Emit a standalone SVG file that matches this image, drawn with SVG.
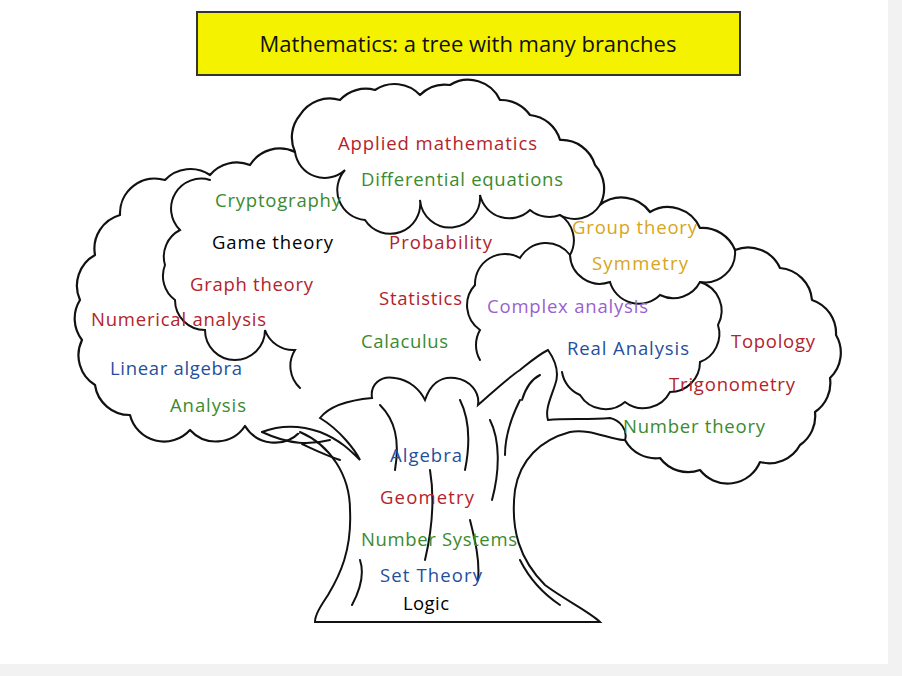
<svg xmlns="http://www.w3.org/2000/svg" width="902" height="676" viewBox="0 0 902 676">
<style>
.o{fill:#fff;stroke:#111;stroke-width:2.2;stroke-linejoin:round}
.f{fill:#fff;stroke:none}
.l{fill:none;stroke:#111;stroke-width:2;stroke-linecap:round}
text{font-family:"Open Sans","Liberation Sans",sans-serif;font-size:18.5px}
.r{fill:#b3232b}.g{fill:#3b8a2e}.b{fill:#1f4f9e}.y{fill:#d7a520}.p{fill:#9a5fd0}.k{fill:#000}
</style>
<rect width="902" height="676" fill="#fff"/>
<rect x="888" y="0" width="14" height="676" fill="#f2f2f2"/>
<rect x="0" y="664" width="902" height="12" fill="#f2f2f2"/>
<g id="title">
<rect x="197" y="12" width="543" height="63" fill="#f5f200" stroke="#333" stroke-width="2"/>
<text x="468" y="52" text-anchor="middle" style="font-size:22px" fill="#111">Mathematics: a tree with many branches</text>
</g>
<g id="canopy">
<path class="o" d="M300,432 A35,35 0 0 1 245,426 A35,35 0 0 1 190,430 A35,35 0 0 1 130,415 A35,35 0 0 1 95,385 A35,35 0 0 1 82,340 A35,35 0 0 1 80,300 A35,35 0 0 1 95,255 A35,35 0 0 1 120,215 A35,35 0 0 1 165,180 A35,35 0 0 1 210,175 A35,35 0 0 1 250,165 A35,35 0 0 1 295,152 A35,35 0 0 1 300,115 A35,35 0 0 1 340,100 A35,35 0 0 1 375,90 A35,35 0 0 1 420,95 A35,35 0 0 1 450,85 A35,35 0 0 1 500,100 A35,35 0 0 1 530,115 A35,35 0 0 1 560,140 A35,35 0 0 1 595,165 A35,35 0 0 1 600,205 A35,35 0 0 1 650,212 A35,35 0 0 1 700,228 A35,35 0 0 1 735,250 A35,35 0 0 1 780,268 A35,35 0 0 1 812,300 A35,35 0 0 1 836,335 A35,35 0 0 1 830,378 A35,35 0 0 1 815,412 A35,35 0 0 1 800,445 A35,35 0 0 1 760,462 A35,35 0 0 1 700,470 A35,35 0 0 1 660,458 A35,35 0 0 1 625,440 L560,432 Z"/>
<path class="l" d="M300,388 A30,30 0 0 1 295,350 A30,30 0 0 1 265,330 A30,30 0 0 1 205,330 A30,30 0 0 1 175,300 A30,30 0 0 1 165,265 A30,30 0 0 1 180,230 A30,30 0 0 1 210,180"/>
<path class="l" d="M295,152 A30,30 0 0 0 345,170 A30,30 0 0 0 365,220 A30,30 0 0 0 420,200 A30,30 0 0 0 480,195 A30,30 0 0 0 530,210 A30,30 0 0 0 560,215 A30,30 0 0 0 600,205"/>
<path class="l" d="M560,215 A30,30 0 0 1 570,255 A30,30 0 0 0 520,258 A30,30 0 0 0 475,285 A30,30 0 0 0 480,330 A30,30 0 0 0 480,360"/>
<path class="l" d="M570,255 A30,30 0 0 0 610,282 A30,30 0 0 0 660,295 A30,30 0 0 0 700,282 A30,30 0 0 0 735,250"/>
<path class="l" d="M700,282 A30,30 0 0 1 718,325 A30,30 0 0 1 700,362 A30,30 0 0 1 670,392 A30,30 0 0 1 625,402 A30,30 0 0 1 580,395 A30,30 0 0 1 562,372"/>
</g>
<g id="trunk">
<path class="f" d="M296,420 L630,420 L625,440 C600,440 570,440 545,445 C520,460 510,530 515,545 C520,565 545,590 600,622 L315,622 C320,605 345,570 350,530 C355,480 335,445 296,432 Z"/>
<path class="l" d="M300,432 C330,445 350,475 350,510 C352,550 340,575 328,595 C320,607 315,615 315,622 L600,622 C590,612 565,600 545,585 C520,560 510,530 515,490 C520,460 540,440 570,432 C590,428 610,440 625,440"/>
<path class="l" d="M262,432 C280,425 300,425 320,432 C340,440 350,450 360,460 C355,450 340,430 320,418 C330,405 350,400 372,398 C370,385 380,375 395,378 C410,380 420,390 425,400 C430,385 440,376 455,378 C470,380 480,392 478,405 C490,395 505,380 520,370 C530,362 538,355 548,350 C555,360 560,372 555,385 C550,400 545,410 548,420 C565,418 590,420 610,418 C620,420 628,430 625,440"/>
<path class="l" d="M330,440 C310,445 290,445 262,432 M340,460 C325,455 315,450 302,444"/>
<path class="l" d="M380,405 C395,420 400,440 395,470 M460,400 C470,420 470,445 465,470 M490,420 C500,440 500,470 492,500 M520,400 C510,420 505,440 505,455 M540,375 C530,380 525,390 522,400 M430,470 C435,500 432,530 425,560 M470,520 C475,540 480,560 478,580 M360,560 C365,575 360,590 352,605 M520,560 C530,580 545,595 560,605"/>
</g>
<g id="labels">
<text class="r" x="338" y="150" textLength="199">Applied mathematics</text>
<text class="g" x="361" y="186" textLength="202">Differential equations</text>
<text class="g" x="215" y="207" textLength="126">Cryptography</text>
<text class="k" x="212" y="249" textLength="121">Game theory</text>
<text class="r" x="389" y="249" textLength="103">Probability</text>
<text class="y" x="572" y="234" textLength="125">Group theory</text>
<text class="y" x="592" y="270" textLength="96">Symmetry</text>
<text class="r" x="190" y="291" textLength="123">Graph theory</text>
<text class="r" x="379" y="305" textLength="83">Statistics</text>
<text class="p" x="487" y="313" textLength="161">Complex analysis</text>
<text class="r" x="91" y="326" textLength="175">Numerical analysis</text>
<text class="g" x="361" y="348" textLength="87">Calaculus</text>
<text class="b" x="567" y="355" textLength="122">Real Analysis</text>
<text class="r" x="731" y="348" textLength="84">Topology</text>
<text class="b" x="110" y="375" textLength="132">Linear algebra</text>
<text class="r" x="669" y="391" textLength="126">Trigonometry</text>
<text class="g" x="170" y="412" textLength="76">Analysis</text>
<text class="g" x="623" y="433" textLength="142">Number theory</text>
<text class="b" x="390" y="462" textLength="72">Algebra</text>
<text class="r" x="380" y="504" textLength="94">Geometry</text>
<text class="g" x="361" y="546" textLength="156">Number Systems</text>
<text class="b" x="380" y="582" textLength="102">Set Theory</text>
<text class="k" x="403" y="610" textLength="46">Logic</text>
</g>
</svg>
